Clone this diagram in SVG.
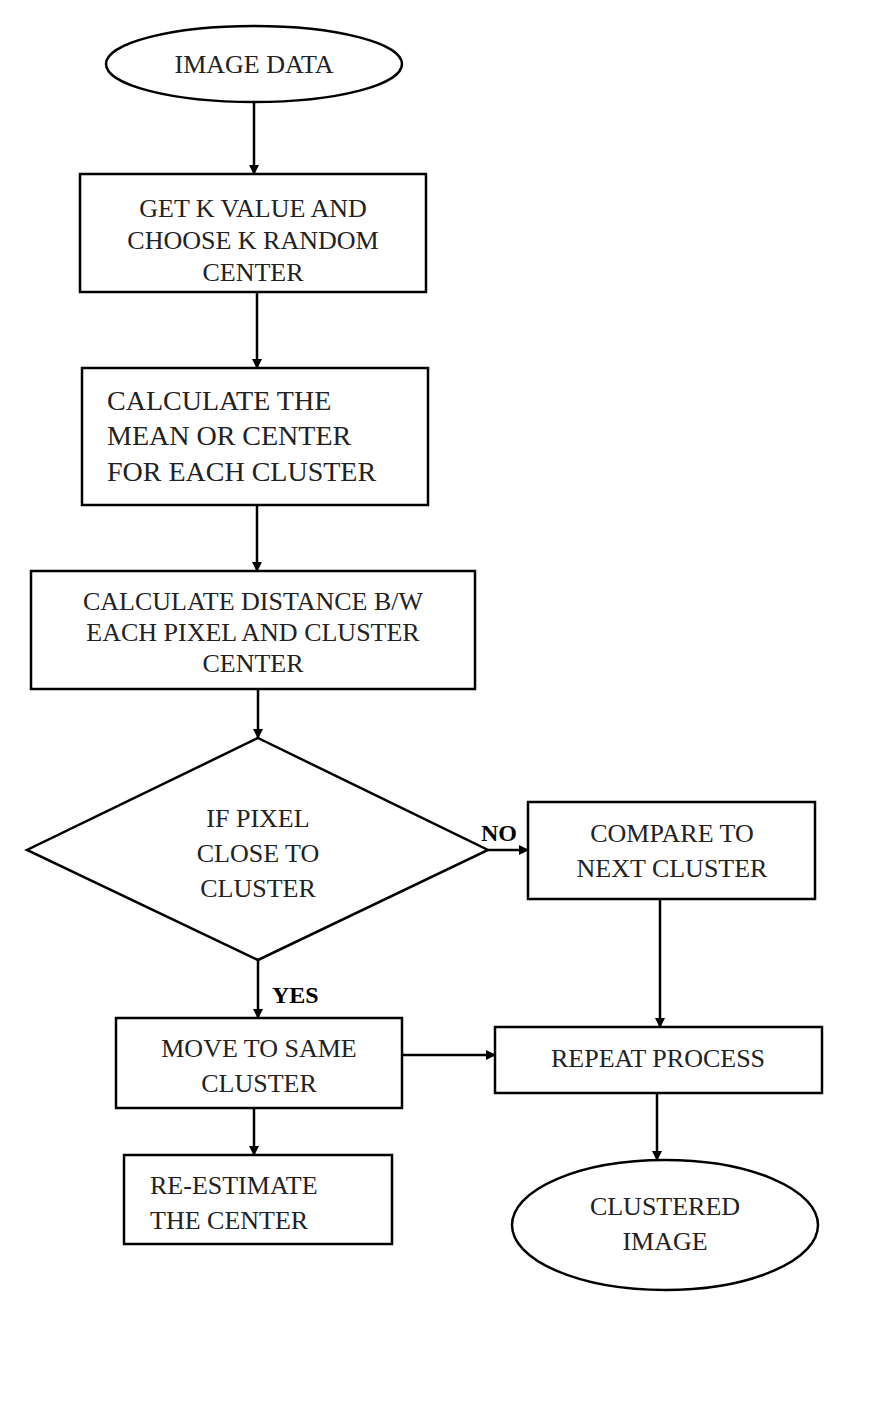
<svg xmlns="http://www.w3.org/2000/svg" width="887" height="1407" viewBox="0 0 887 1407">
<defs>
<marker id="ah" markerWidth="10" markerHeight="10" refX="9" refY="5" orient="auto" markerUnits="userSpaceOnUse" viewBox="0 0 10 10"><path d="M0,0 L10,5 L0,10 z" fill="#000"/></marker>
<style>
.s{fill:#fff;stroke:#000;stroke-width:2.5}
text{font-family:"Liberation Serif",serif;font-size:26px;fill:#222;dominant-baseline:central}
.c{text-anchor:middle}
.b{font-weight:bold;font-size:24px;fill:#000}
.l{stroke:#000;stroke-width:2.5;fill:none;marker-end:url(#ah)}
</style>
</defs>
<rect width="887" height="1407" fill="#fff"/>
<g id="connectors">
<line class="l" x1="254" y1="102" x2="254" y2="174"/>
<line class="l" x1="257" y1="292" x2="257" y2="368"/>
<line class="l" x1="257" y1="505" x2="257" y2="571"/>
<line class="l" x1="258" y1="689" x2="258" y2="738"/>
<line class="l" x1="488" y1="850" x2="528" y2="850"/>
<line class="l" x1="660" y1="899" x2="660" y2="1027"/>
<line class="l" x1="258" y1="960" x2="258" y2="1018"/>
<line class="l" x1="402" y1="1055" x2="495" y2="1055"/>
<line class="l" x1="254" y1="1108" x2="254" y2="1155"/>
<line class="l" x1="657" y1="1093" x2="657" y2="1160"/>
<text class="b" x="481" y="833">NO</text>
<text class="b" x="272" y="995">YES</text>
</g>
<g id="imageData"><ellipse class="s" cx="254" cy="64" rx="148" ry="38"/><text class="c" x="254" y="64">IMAGE DATA</text></g>
<g id="getK"><rect class="s" x="80" y="174" width="346" height="118"/><text class="c" x="253" y="208">GET K VALUE AND</text><text class="c" x="253" y="240">CHOOSE K RANDOM</text><text class="c" x="253" y="272">CENTER</text></g>
<g id="calcMean"><rect class="s" x="82" y="368" width="346" height="137"/><text x="107" y="400" style="font-size:28px">CALCULATE THE</text><text x="107" y="435" style="font-size:28px">MEAN OR CENTER</text><text x="107" y="471" style="font-size:28px">FOR EACH CLUSTER</text></g>
<g id="calcDist"><rect class="s" x="31" y="571" width="444" height="118"/><text class="c" x="253" y="601">CALCULATE DISTANCE B/W</text><text class="c" x="253" y="632">EACH PIXEL AND CLUSTER</text><text class="c" x="253" y="663">CENTER</text></g>
<g id="decision"><polygon class="s" points="258,738 488,850 258,960 27,850"/><text class="c" x="258" y="818">IF PIXEL</text><text class="c" x="258" y="853">CLOSE TO</text><text class="c" x="258" y="888">CLUSTER</text></g>
<g id="compare"><rect class="s" x="528" y="802" width="287" height="97"/><text class="c" x="672" y="833">COMPARE TO</text><text class="c" x="672" y="868">NEXT CLUSTER</text></g>
<g id="repeat"><rect class="s" x="495" y="1027" width="327" height="66"/><text class="c" x="658" y="1058">REPEAT PROCESS</text></g>
<g id="move"><rect class="s" x="116" y="1018" width="286" height="90"/><text class="c" x="259" y="1048">MOVE TO SAME</text><text class="c" x="259" y="1083">CLUSTER</text></g>
<g id="reestimate"><rect class="s" x="124" y="1155" width="268" height="89"/><text x="150" y="1185">RE-ESTIMATE</text><text x="150" y="1220">THE CENTER</text></g>
<g id="clustered"><ellipse class="s" cx="665" cy="1225" rx="153" ry="65"/><text class="c" x="665" y="1206">CLUSTERED</text><text class="c" x="665" y="1241">IMAGE</text></g>
</svg>
